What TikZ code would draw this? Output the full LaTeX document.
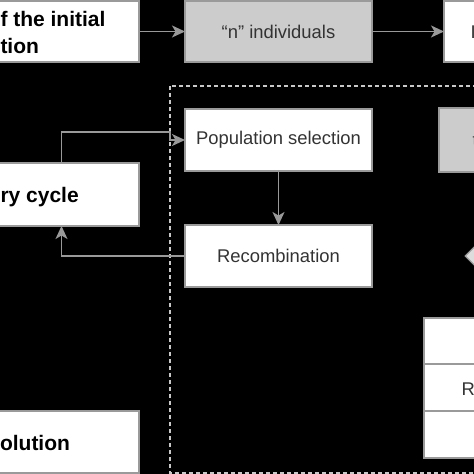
\documentclass[tikz,border=0pt]{standalone}
\usepackage{fontspec}
\setmainfont{Liberation Sans}
\usetikzlibrary{arrows.meta,shapes.geometric}
\definecolor{boxline}{HTML}{9A9A9A}
\definecolor{conncol}{HTML}{999999}
\definecolor{graybox}{HTML}{CCCCCC}
\definecolor{diafill}{HTML}{DDDDDD}
\definecolor{txt}{HTML}{333333}
\definecolor{dashcol}{HTML}{C8C8C8}
\newcommand{\regfont}{\fontsize{18.4bp}{22bp}\selectfont}
\newcommand{\boldfont}{\fontsize{21bp}{27bp}\selectfont\bfseries}
\tikzset{
  boxnode/.style={draw=boxline, line width=1.3bp, fill=white, inner sep=0pt, outer sep=0pt, text=txt, font=\regfont},
  grayboxnode/.style={boxnode, fill=graybox},
  conn/.style={draw=conncol, line width=1.4bp, -{Stealth[length=13bp, width=12bp, inset=3.5bp]}},
  boldtext/.style={inner sep=0pt, outer sep=0pt, font=\boldfont, text=black, anchor=base west},
  regtext/.style={inner sep=0pt, outer sep=0pt, font=\regfont, text=txt, anchor=base west},
}
\begin{document}
\begin{tikzpicture}[x=1bp,y=-1bp]
\fill[black] (0,0) rectangle (474,474);
\useasboundingbox (0,0) rectangle (474,474);
\clip (0,0) rectangle (474,474);

% dashed container
\draw[draw=dashcol, line width=1.2bp, dash pattern=on 4bp off 3bp] (170,86) rectangle (640,473);

% top row
\node[boxnode, minimum width=160bp, minimum height=61bp] (init) at (59,31.5) {};
\node[grayboxnode, minimum width=187bp, minimum height=61bp] (indiv) at (278.5,31.5) {\textquotedblleft n\textquotedblright\ individuals};
\node[boxnode, minimum width=156bp, minimum height=61bp] (topR) at (522,31.5) {};

% left column
\node[boxnode, minimum width=155bp, minimum height=63bp] (cyc) at (61.5,194.5) {};
\node[boxnode, minimum width=159bp, minimum height=62bp] (sol) at (59.5,442) {};

% middle column
\node[boxnode, minimum width=187bp, minimum height=62bp] (sel) at (278.5,140) {Population selection};
\node[boxnode, minimum width=187bp, minimum height=62bp] (rec) at (278.5,256) {Recombination};

% right column
\node[grayboxnode, minimum width=161bp, minimum height=64bp] (grayR) at (519.5,140) {};
\node[diamond, draw=boxline, line width=1.3bp, fill=diafill, aspect=1, minimum width=80bp, minimum height=80bp, inner sep=0pt] (dmd) at (505,256) {};
\node[boxnode, minimum width=176bp, minimum height=46bp] (row1) at (512,341) {};
\node[boxnode, minimum width=176bp, minimum height=47bp] (row2) at (512,387.5) {};
\node[boxnode, minimum width=176bp, minimum height=47bp] (row3) at (512,434.5) {};

% visible (cropped) texts
\node[boldtext] (t1) at (0.5,26.5) {f the initial};
\node[boldtext] (t2) at (0.5,54) {tion};
\node[boldtext] (t3) at (0.5,203) {ry cycle};
\node[boldtext] (t4) at (0,450) {olution};
\node[regtext] (t5) at (470.5,38.5) {I};
\node[regtext] (t6) at (472.5,146.5) {t};
\node[regtext] (t7) at (461.5,395) {R};

% connectors
\draw[conn] (init.east) -- (indiv.west);
\draw[conn] (indiv.east) -- (topR.west);
\draw[conn] (sel.south) -- (rec.north);
\coordinate (bend) at (170,132);
\draw[conn] (cyc.north) |- (bend) |- (sel.west);
\draw[conn] (rec.west) -| (cyc.south);
\end{tikzpicture}
\end{document}
